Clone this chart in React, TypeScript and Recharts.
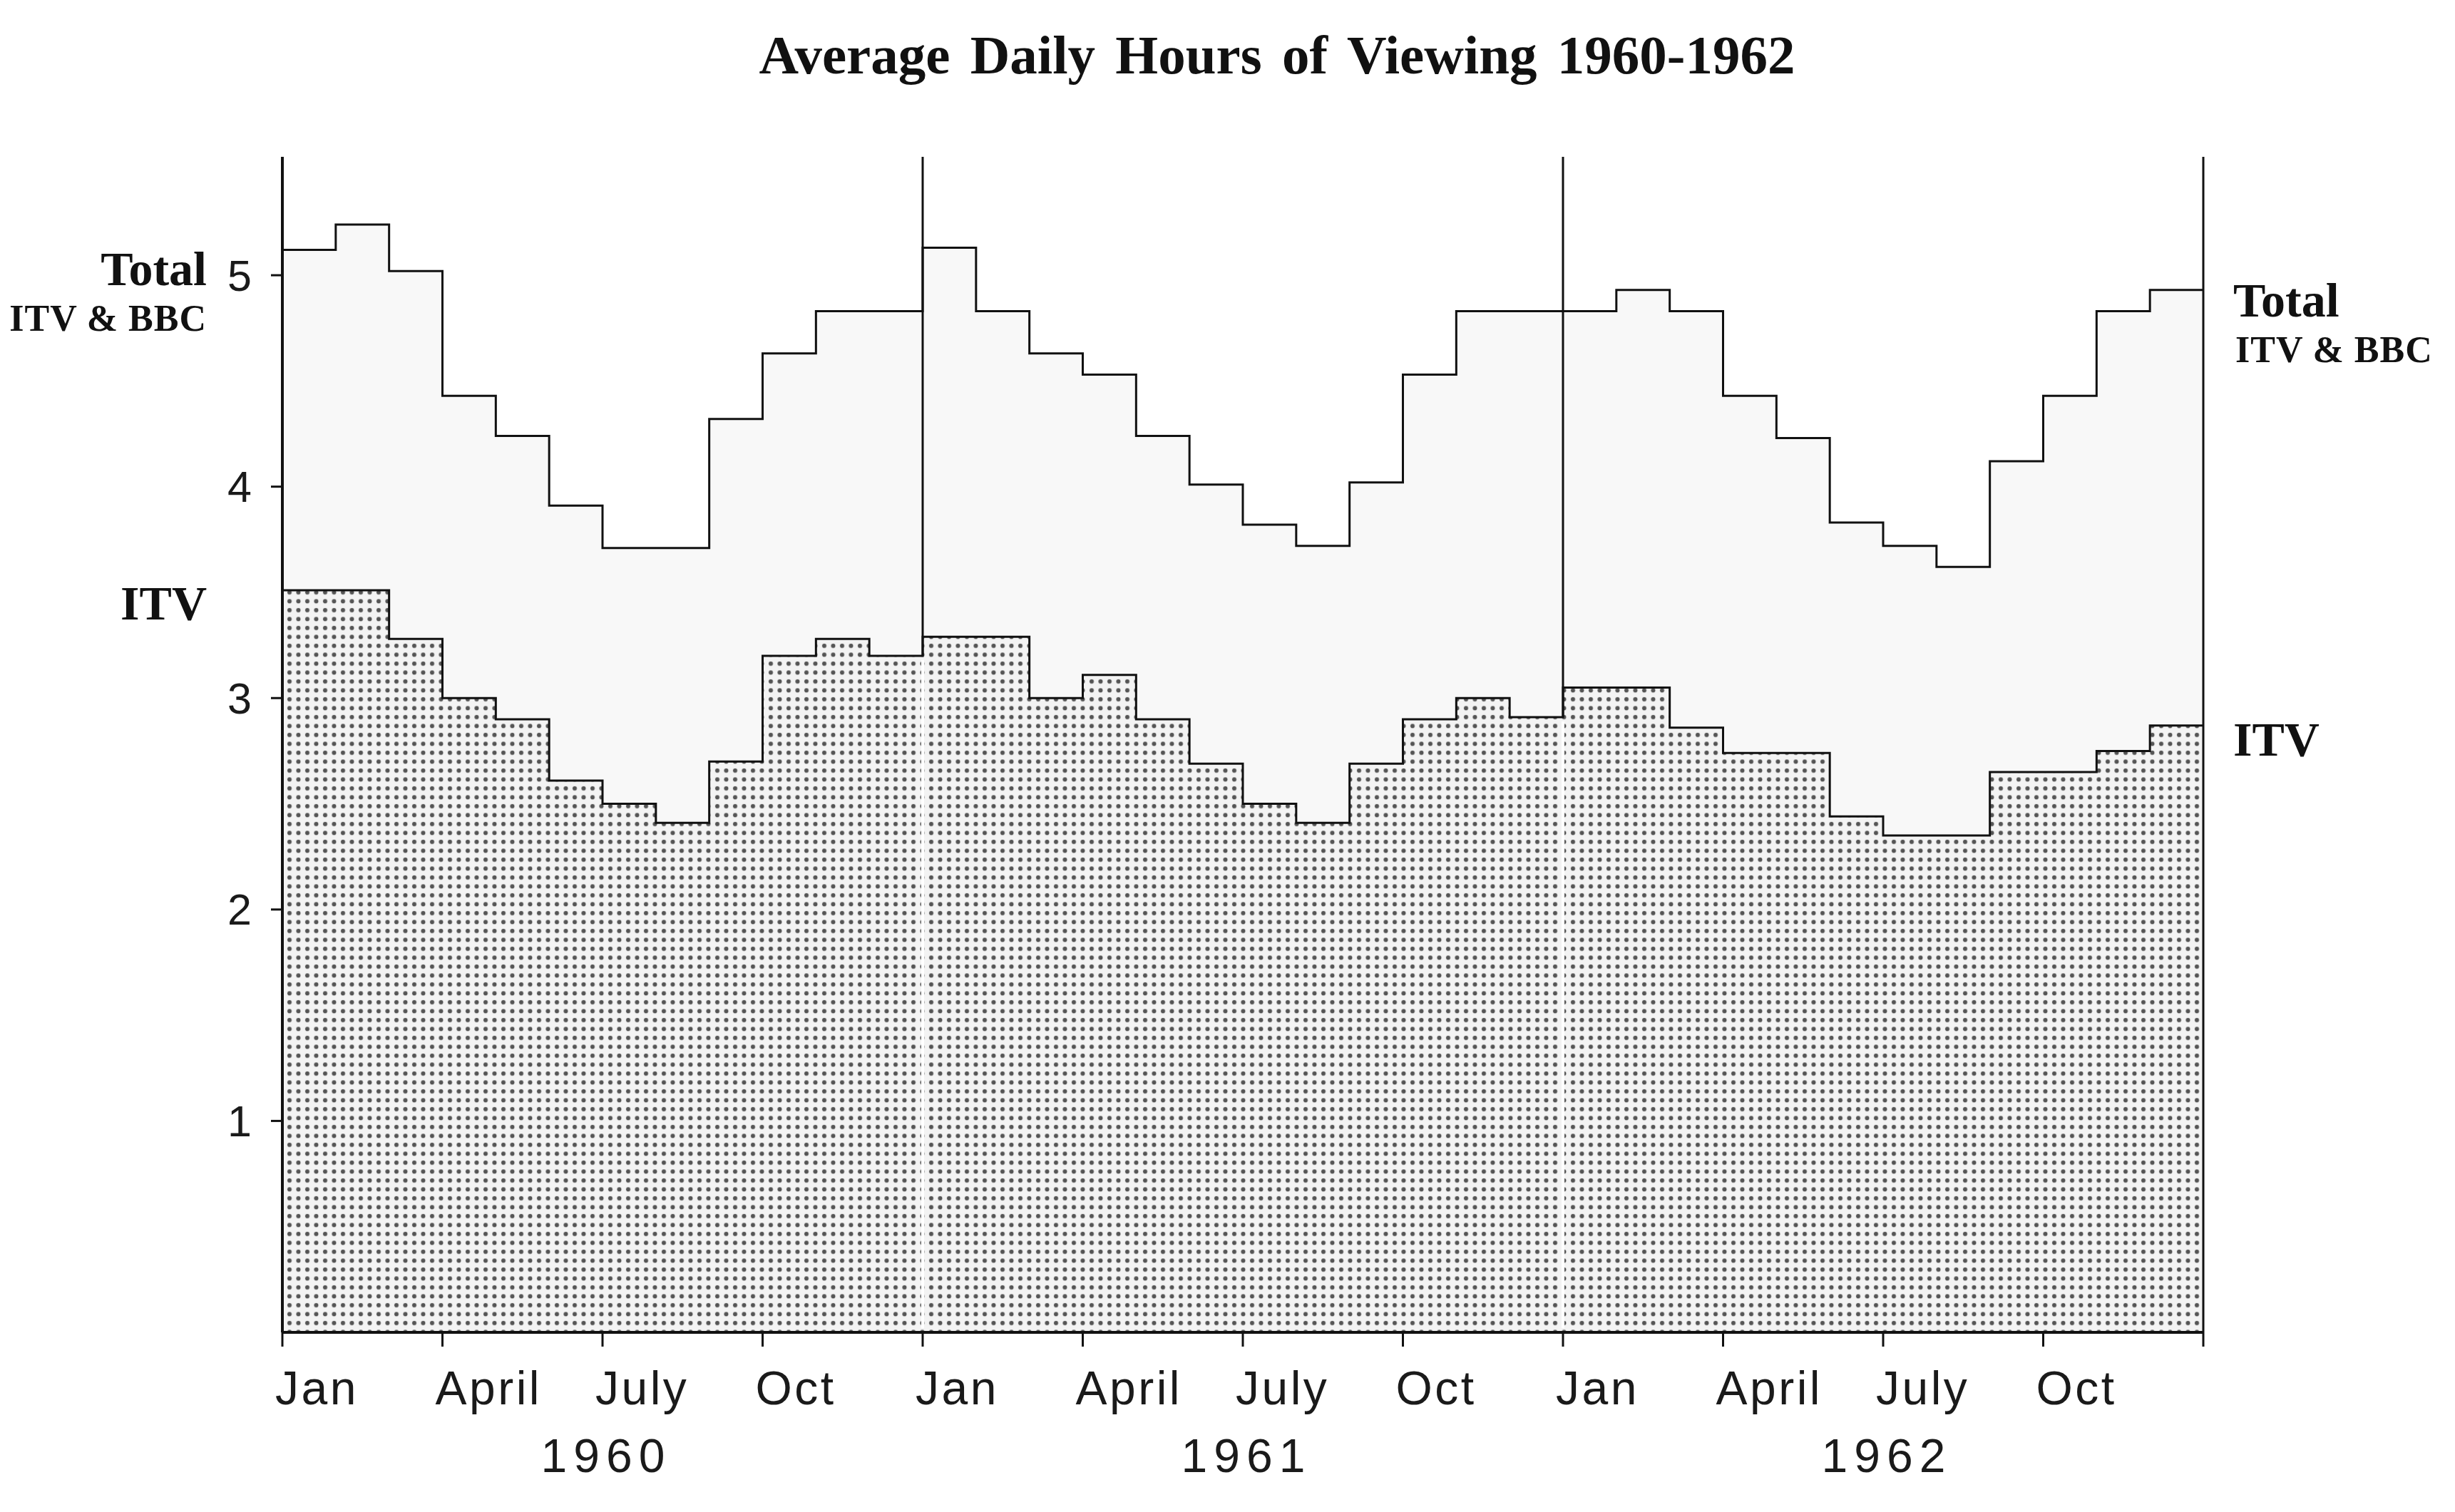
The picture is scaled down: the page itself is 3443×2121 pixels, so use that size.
import React from 'react'
import { ComposedChart, Area, XAxis, YAxis, ReferenceLine } from 'recharts'

const years = ['1960', '1961', '1962']
const quarterLabels = ['Jan', 'April', 'July', 'Oct']
const yTicks = [1, 2, 3, 4, 5]
const monthTicks = [0, 3, 6, 9, 12, 15, 18, 21, 24, 27, 30, 33, 36]
const yearTicks = [6, 18, 30]

// average daily hours, Jan..Dec for each year
const total1960 = [5.12, 5.24, 5.02, 4.43, 4.24, 3.91, 3.71, 3.71, 4.32, 4.63, 4.83, 4.83]
const total1961 = [5.13, 4.83, 4.63, 4.53, 4.24, 4.01, 3.82, 3.72, 4.02, 4.53, 4.83, 4.83]
const total1962 = [4.83, 4.93, 4.83, 4.43, 4.23, 3.83, 3.72, 3.62, 4.12, 4.43, 4.83, 4.93]

const itv1960 = [3.51, 3.51, 3.28, 3.0, 2.9, 2.61, 2.5, 2.41, 2.7, 3.2, 3.28, 3.2]
const itv1961 = [3.29, 3.29, 3.0, 3.11, 2.9, 2.69, 2.5, 2.41, 2.69, 2.9, 3.0, 2.91]
const itv1962 = [3.05, 3.05, 2.86, 2.74, 2.74, 2.44, 2.35, 2.35, 2.65, 2.65, 2.75, 2.87]

const totalHours = [...total1960, ...total1961, ...total1962]
const itvHours = [...itv1960, ...itv1961, ...itv1962]

const data = totalHours.map((t, i) => ({ m: i, total: t, itv: itvHours[i] }))
// closing point so the last December step reaches the right edge
data.push({ m: 36, total: totalHours[35], itv: itvHours[35] })

const Y_MAX = 5.56
const W = 3443
const H = 2121
const sans = '"Liberation Sans", Arial, Helvetica, sans-serif'
const serif = '"Liberation Serif", "Times New Roman", serif'

const MonthTick = (props: any) => {
  const { x, y, payload } = props
  const idx = Math.round(payload.value / 3)
  if (idx >= 12) return null
  return (
    <text x={x - 10} y={y} dy={79} textAnchor="start" fontSize={66} letterSpacing={3.5}
      fontFamily={sans} fill="#1a1a1a">
      {quarterLabels[idx % 4]}
    </text>
  )
}

const YearTick = (props: any) => {
  const { x, y, payload } = props
  const idx = Math.round((payload.value - 6) / 12)
  return (
    <text x={x + 5} y={y} dy={86} textAnchor="middle" fontSize={66} letterSpacing={9}
      fontFamily={sans} fill="#1a1a1a">
      {years[idx]}
    </text>
  )
}

export default function App() {
  const jan61Low = Math.min(itvHours[11], itvHours[12])
  const jan62Low = Math.min(itvHours[23], itvHours[24])

  return (
    <div style={{ position: 'absolute', left: 0, top: 0, width: W, height: H, background: '#fff' }}>
      <ComposedChart
        width={W}
        height={H}
        data={data}
        margin={{ top: 220, right: 353, left: 296, bottom: 42 }}
      >
        <defs>
          <pattern id="dots" width="12.5" height="12.5" patternUnits="userSpaceOnUse">
            <rect width="12.5" height="12.5" fill="#f3f3f3" />
            <circle cx="6" cy="6" r="3" fill="#555" />
          </pattern>
        </defs>
        <XAxis
          type="number"
          dataKey="m"
          domain={[0, 36]}
          ticks={monthTicks}
          interval={0}
          height={110}
          tickSize={20}
          tickMargin={2}
          axisLine={{ stroke: '#111', strokeWidth: 4 }}
          tickLine={{ stroke: '#111', strokeWidth: 3 }}
          tick={<MonthTick />}
        />
        <XAxis
          xAxisId="year"
          type="number"
          dataKey="m"
          domain={[0, 36]}
          ticks={yearTicks}
          interval={0}
          height={100}
          tickSize={0}
          tickMargin={0}
          axisLine={false}
          tickLine={false}
          tick={<YearTick />}
        />
        <YAxis
          type="number"
          domain={[0, Y_MAX]}
          ticks={yTicks}
          width={100}
          tickSize={16}
          tickMargin={27}
          axisLine={{ stroke: '#111', strokeWidth: 4 }}
          tickLine={{ stroke: '#111', strokeWidth: 3 }}
          tick={{ fontSize: 61, fill: '#1a1a1a', fontFamily: sans }}
        />
        <Area
          type="stepAfter"
          dataKey="total"
          stroke="#111"
          strokeWidth={3}
          fill="#f8f8f8"
          fillOpacity={1}
          dot={false}
          activeDot={false}
          isAnimationActive={false}
        />
        <Area
          type="stepAfter"
          dataKey="itv"
          stroke="#111"
          strokeWidth={3}
          fill="url(#dots)"
          fillOpacity={1}
          dot={false}
          activeDot={false}
          isAnimationActive={false}
        />
        <ReferenceLine segment={[{ x: 12, y: Y_MAX }, { x: 12, y: jan61Low }]} stroke="#111" strokeWidth={3} />
        <ReferenceLine segment={[{ x: 24, y: Y_MAX }, { x: 24, y: jan62Low }]} stroke="#111" strokeWidth={3} />
        <ReferenceLine segment={[{ x: 12, y: jan61Low - 0.02 }, { x: 12, y: 0.02 }]} stroke="#fff" strokeWidth={4} />
        <ReferenceLine segment={[{ x: 24, y: jan62Low - 0.02 }, { x: 24, y: 0.02 }]} stroke="#fff" strokeWidth={4} />
        <ReferenceLine x={36} stroke="#111" strokeWidth={3} />
      </ComposedChart>

      <svg width={W} height={H} style={{ position: 'absolute', left: 0, top: 0, pointerEvents: 'none' }}>
        <text x={1791} y={103} textAnchor="middle" fontFamily={serif} fontWeight="bold" fontSize={77}
          wordSpacing={9} fill="#111">
          Average Daily Hours of Viewing 1960-1962
        </text>

        <text x={290} y={400} textAnchor="end" fontFamily={serif} fontWeight="bold" fontSize={68} fill="#111">Total</text>
        <text x={290} y={464} textAnchor="end" fontFamily={serif} fontWeight="bold" fontSize={52} letterSpacing={1} fill="#111">ITV &amp; BBC</text>
        <text x={290} y={869} textAnchor="end" fontFamily={serif} fontWeight="bold" fontSize={68} fill="#111">ITV</text>

        <text x={3132} y={444} textAnchor="start" fontFamily={serif} fontWeight="bold" fontSize={68} fill="#111">Total</text>
        <text x={3135} y={508} textAnchor="start" fontFamily={serif} fontWeight="bold" fontSize={52} letterSpacing={1} fill="#111">ITV &amp; BBC</text>
        <text x={3132} y={1060} textAnchor="start" fontFamily={serif} fontWeight="bold" fontSize={68} fill="#111">ITV</text>
      </svg>
    </div>
  )
}
